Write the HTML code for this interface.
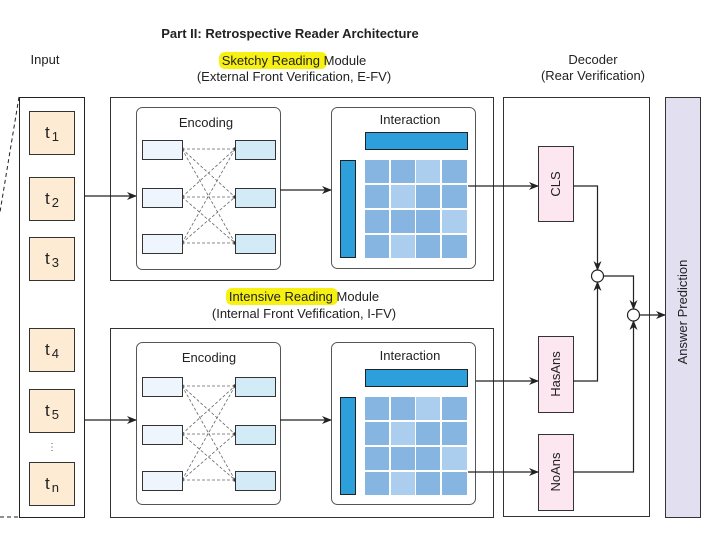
<!DOCTYPE html>
<html><head><meta charset="utf-8"><style>
html,body{margin:0;padding:0;background:#fff}
svg{display:block;font-family:"Liberation Sans",Arial,sans-serif}
</style></head><body>
<svg width="720" height="533" viewBox="0 0 720 533" xmlns="http://www.w3.org/2000/svg">
<defs>
<marker id="a" markerWidth="10" markerHeight="8" refX="9" refY="4" orient="auto" markerUnits="userSpaceOnUse"><path d="M0,0 L10,4 L0,8 L3,4 z" fill="#222"/></marker>
<marker id="d" markerWidth="4" markerHeight="4" refX="2" refY="2" markerUnits="userSpaceOnUse"><circle cx="2" cy="2" r="1.6" fill="#333"/></marker>
</defs>
<text x="290" y="38" font-size="13" font-weight="bold" text-anchor="middle" fill="#222">Part II: Retrospective Reader Architecture</text>
<text x="45" y="64" font-size="13" text-anchor="middle" fill="#222">Input</text>
<rect x="219" y="52" width="108" height="17" rx="6" fill="#f7f013"/>
<text x="294" y="65" font-size="13" text-anchor="middle" fill="#222">Sketchy Reading Module</text>
<text x="294" y="81" font-size="13" text-anchor="middle" fill="#222">(External Front Verification, E-FV)</text>
<text x="593" y="64" font-size="13" text-anchor="middle" fill="#222">Decoder</text>
<text x="593" y="80" font-size="13" text-anchor="middle" fill="#222">(Rear Verification)</text>
<rect x="226" y="288" width="112" height="17" rx="6" fill="#f7f013"/>
<text x="304" y="301" font-size="13" text-anchor="middle" fill="#222">Intensive Reading Module</text>
<text x="304" y="318" font-size="13" text-anchor="middle" fill="#222">(Internal Front Vefification, I-FV)</text>

<line x1="19" y1="97" x2="0" y2="212" stroke="#222" stroke-dasharray="4,3"/>
<line x1="0" y1="517" x2="19" y2="517" stroke="#222" stroke-dasharray="4,3"/>

<rect x="19.5" y="97.5" width="65" height="420" fill="#fff" stroke="#222"/>
<g fill="#fdebd3" stroke="#333">
<rect x="29.5" y="111.5" width="45" height="43"/>
<rect x="29.5" y="177.5" width="45" height="43"/>
<rect x="29.5" y="237.5" width="45" height="43"/>
<rect x="29.5" y="328.5" width="45" height="43"/>
<rect x="29.5" y="389.5" width="45" height="43"/>
<rect x="29.5" y="462.5" width="45" height="43"/>
</g>
<g font-size="17" fill="#222">
<text x="45" y="138">t<tspan font-size="13" dx="2" dy="3">1</tspan></text>
<text x="45" y="204">t<tspan font-size="13" dx="2" dy="3">2</tspan></text>
<text x="45" y="264">t<tspan font-size="13" dx="2" dy="3">3</tspan></text>
<text x="45" y="355">t<tspan font-size="13" dx="2" dy="3">4</tspan></text>
<text x="45" y="416">t<tspan font-size="13" dx="2" dy="3">5</tspan></text>
<text x="45" y="489">t<tspan font-size="13" dx="2" dy="3">n</tspan></text>
</g>
<text x="52" y="450" font-size="10" text-anchor="middle" fill="#555">⋮</text>

<rect x="110.5" y="97.5" width="383" height="183" fill="none" stroke="#333"/>
<rect x="110.5" y="328.5" width="383" height="189" fill="none" stroke="#333"/>

<rect x="136.5" y="107.5" width="144" height="162" rx="6" fill="#fff" stroke="#555"/>
<text x="206" y="127" font-size="13" text-anchor="middle" fill="#222">Encoding</text>
<g stroke="#666" stroke-dasharray="3,2" stroke-width="0.8" marker-start="url(#d)" marker-end="url(#d)">
<line x1="182" y1="149" x2="235" y2="149"/><line x1="182" y1="149" x2="235" y2="197"/><line x1="182" y1="149" x2="235" y2="243"/>
<line x1="182" y1="197" x2="235" y2="149"/><line x1="182" y1="197" x2="235" y2="197"/><line x1="182" y1="197" x2="235" y2="243"/>
<line x1="182" y1="243" x2="235" y2="149"/><line x1="182" y1="243" x2="235" y2="197"/><line x1="182" y1="243" x2="235" y2="243"/>
</g>
<g stroke="#333"><g fill="#eef5fc">
<rect x="142.5" y="140.5" width="40" height="19"/><rect x="142.5" y="188.5" width="40" height="19"/><rect x="142.5" y="234.5" width="40" height="19"/></g>
<g fill="#d3eaf7"><rect x="235.5" y="140.5" width="40" height="19"/><rect x="235.5" y="188.5" width="40" height="19"/><rect x="235.5" y="234.5" width="40" height="19"/></g></g>

<rect x="331.5" y="107.5" width="144" height="161" rx="6" fill="#fff" stroke="#555"/>
<text x="410" y="124" font-size="13" text-anchor="middle" fill="#222">Interaction</text>
<rect x="365.5" y="132.5" width="102" height="17" fill="#2d9fdb" stroke="#222"/>
<rect x="340.5" y="160.5" width="15" height="97" fill="#2d9fdb" stroke="#222"/>
<g>
<rect x="365" y="160" width="24" height="23" fill="#85b5e0"/><rect x="391" y="160" width="24" height="23" fill="#85b5e0"/><rect x="416" y="160" width="24" height="23" fill="#abcdee"/><rect x="442" y="160" width="25" height="23" fill="#85b5e0"/>
<rect x="365" y="185" width="24" height="23" fill="#85b5e0"/><rect x="391" y="185" width="24" height="23" fill="#abcdee"/><rect x="416" y="185" width="24" height="23" fill="#85b5e0"/><rect x="442" y="185" width="25" height="23" fill="#85b5e0"/>
<rect x="365" y="210" width="24" height="23" fill="#85b5e0"/><rect x="391" y="210" width="24" height="23" fill="#85b5e0"/><rect x="416" y="210" width="24" height="23" fill="#85b5e0"/><rect x="442" y="210" width="25" height="23" fill="#abcdee"/>
<rect x="365" y="235" width="24" height="23" fill="#85b5e0"/><rect x="391" y="235" width="24" height="23" fill="#abcdee"/><rect x="416" y="235" width="24" height="23" fill="#85b5e0"/><rect x="442" y="235" width="25" height="23" fill="#85b5e0"/>
</g>

<rect x="136.5" y="342.5" width="144" height="162" rx="6" fill="#fff" stroke="#555"/>
<text x="209" y="362" font-size="13" text-anchor="middle" fill="#222">Encoding</text>
<g stroke="#666" stroke-dasharray="3,2" stroke-width="0.8" marker-start="url(#d)" marker-end="url(#d)">
<line x1="182" y1="386" x2="235" y2="386"/><line x1="182" y1="386" x2="235" y2="434"/><line x1="182" y1="386" x2="235" y2="480"/>
<line x1="182" y1="434" x2="235" y2="386"/><line x1="182" y1="434" x2="235" y2="434"/><line x1="182" y1="434" x2="235" y2="480"/>
<line x1="182" y1="480" x2="235" y2="386"/><line x1="182" y1="480" x2="235" y2="434"/><line x1="182" y1="480" x2="235" y2="480"/>
</g>
<g stroke="#333"><g fill="#eef5fc">
<rect x="142.5" y="377.5" width="40" height="19"/><rect x="142.5" y="425.5" width="40" height="19"/><rect x="142.5" y="471.5" width="40" height="19"/></g>
<g fill="#d3eaf7"><rect x="235.5" y="377.5" width="40" height="19"/><rect x="235.5" y="425.5" width="40" height="19"/><rect x="235.5" y="471.5" width="40" height="19"/></g></g>

<rect x="331.5" y="342.5" width="144" height="162" rx="6" fill="#fff" stroke="#555"/>
<text x="410" y="360" font-size="13" text-anchor="middle" fill="#222">Interaction</text>
<rect x="365.5" y="369.5" width="102" height="17" fill="#2d9fdb" stroke="#222"/>
<rect x="340.5" y="397.5" width="15" height="97" fill="#2d9fdb" stroke="#222"/>
<g>
<rect x="365" y="397" width="24" height="23" fill="#85b5e0"/><rect x="391" y="397" width="24" height="23" fill="#85b5e0"/><rect x="416" y="397" width="24" height="23" fill="#abcdee"/><rect x="442" y="397" width="25" height="23" fill="#85b5e0"/>
<rect x="365" y="422" width="24" height="23" fill="#85b5e0"/><rect x="391" y="422" width="24" height="23" fill="#abcdee"/><rect x="416" y="422" width="24" height="23" fill="#85b5e0"/><rect x="442" y="422" width="25" height="23" fill="#85b5e0"/>
<rect x="365" y="447" width="24" height="23" fill="#85b5e0"/><rect x="391" y="447" width="24" height="23" fill="#85b5e0"/><rect x="416" y="447" width="24" height="23" fill="#85b5e0"/><rect x="442" y="447" width="25" height="23" fill="#abcdee"/>
<rect x="365" y="472" width="24" height="23" fill="#85b5e0"/><rect x="391" y="472" width="24" height="23" fill="#abcdee"/><rect x="416" y="472" width="24" height="23" fill="#85b5e0"/><rect x="442" y="472" width="25" height="23" fill="#85b5e0"/>
</g>

<rect x="503.5" y="97.5" width="146" height="419" fill="none" stroke="#333"/>
<g fill="#fce6f0" stroke="#333">
<rect x="538.5" y="146.5" width="35" height="75"/>
<rect x="538.5" y="336.5" width="35" height="76"/>
<rect x="538.5" y="434.5" width="35" height="76"/>
</g>
<g font-size="13" fill="#222" text-anchor="middle">
<text transform="translate(560,184) rotate(-90)">CLS</text>
<text transform="translate(560,374) rotate(-90)">HasAns</text>
<text transform="translate(560,472) rotate(-90)">NoAns</text>
</g>
<rect x="665.5" y="97.5" width="35" height="420" fill="#e1dff0" stroke="#333"/>
<text transform="translate(687,312) rotate(-90)" font-size="13" text-anchor="middle" fill="#222">Answer Prediction</text>

<g stroke="#222" fill="none" stroke-width="1.2">
<line x1="84" y1="196" x2="136" y2="196" marker-end="url(#a)"/>
<line x1="280" y1="190" x2="331" y2="190" marker-end="url(#a)"/>
<line x1="84" y1="420" x2="136" y2="420" marker-end="url(#a)"/>
<line x1="280" y1="420" x2="331" y2="420" marker-end="url(#a)"/>
<line x1="468" y1="186" x2="538" y2="186" marker-end="url(#a)"/>
<line x1="476" y1="381" x2="538" y2="381" marker-end="url(#a)"/>
<line x1="468" y1="472" x2="538" y2="472" marker-end="url(#a)"/>
<polyline points="573,186 597.5,186 597.5,270" marker-end="url(#a)"/>
<polyline points="573,381 597.5,381 597.5,282" marker-end="url(#a)"/>
<polyline points="604,276 633.5,276 633.5,309" marker-end="url(#a)"/>
<polyline points="573,472 633.5,472 633.5,321" marker-end="url(#a)"/>
<line x1="639" y1="315" x2="665" y2="315" marker-end="url(#a)"/>
</g>
<circle cx="597.5" cy="276" r="6" fill="#fff" stroke="#222" stroke-width="1.2"/>
<circle cx="633.5" cy="315" r="6" fill="#fff" stroke="#222" stroke-width="1.2"/>
</svg>
</body></html>
